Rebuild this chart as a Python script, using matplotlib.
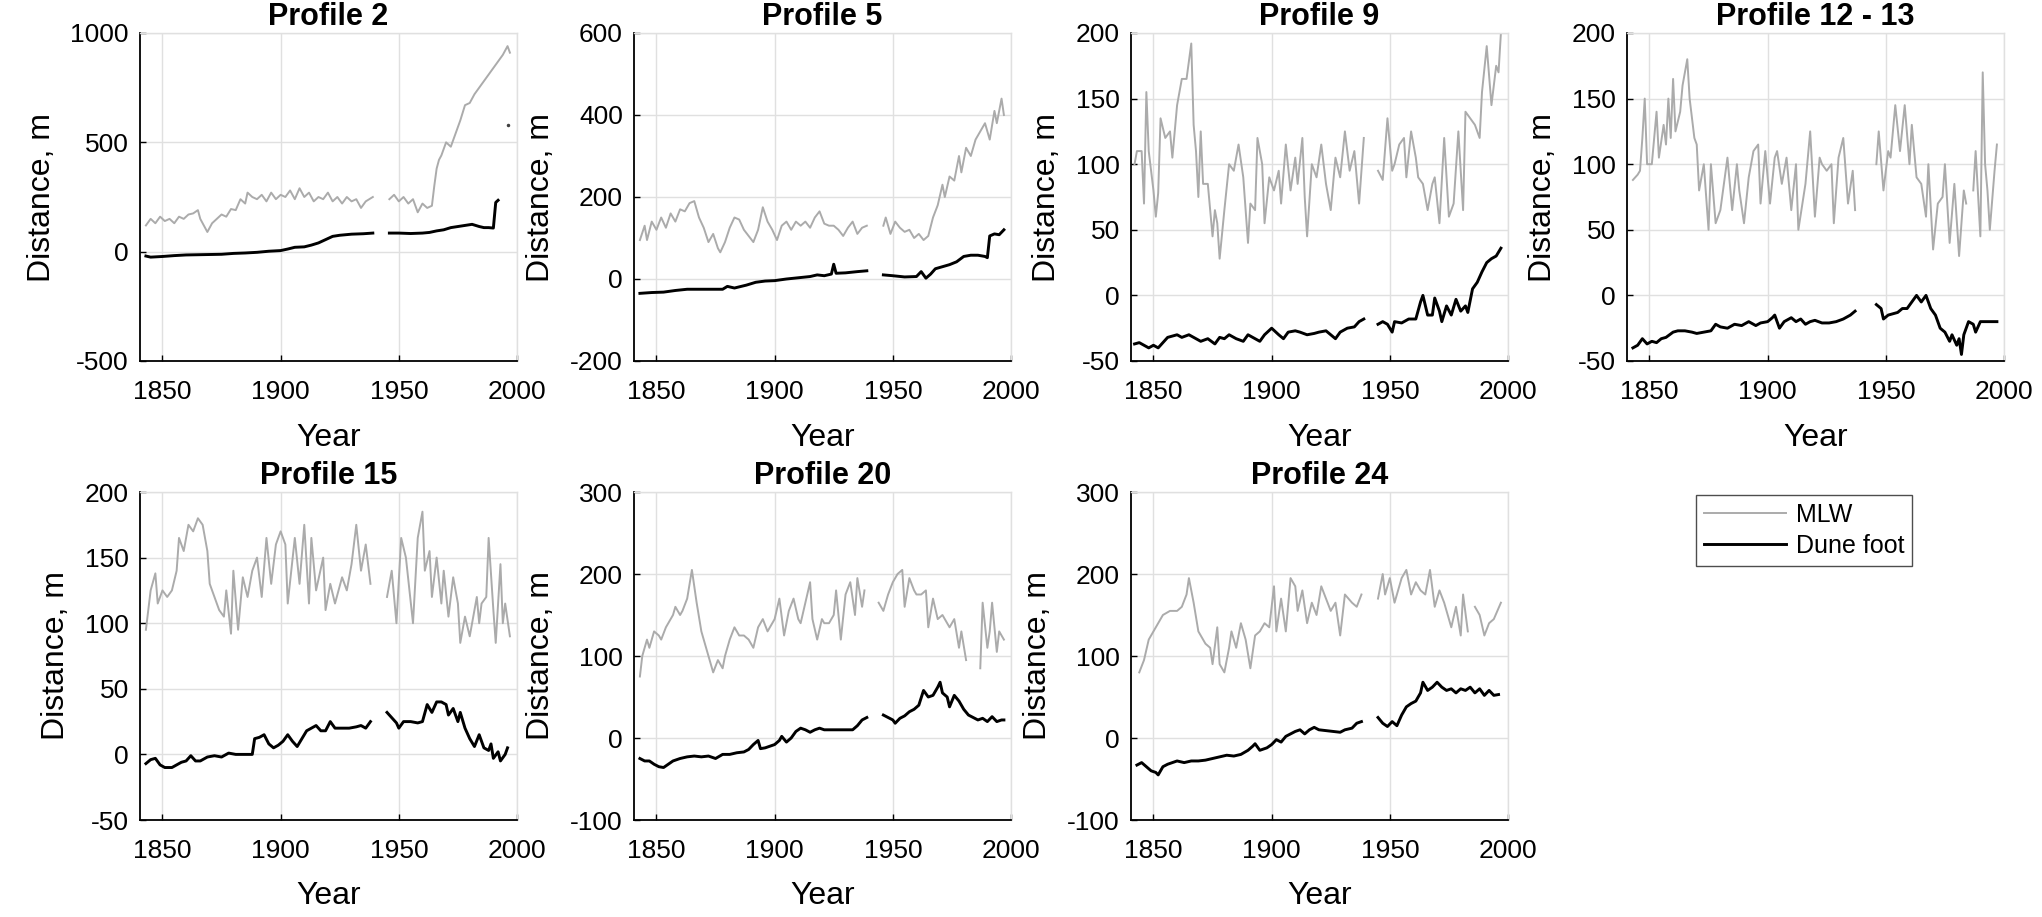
import numpy as np
import matplotlib
matplotlib.use("Agg")
import matplotlib.pyplot as plt

nan = np.nan

#################################
#            DATA               #
#################################
# nan entries mark gaps in the survey record

# -- Profile 2 --
p2_mlw_year = [1843, 1845, 1847, 1849, 1851, 1853, 1855, 1857, 1859, 1861, 1863, 1865, 1866, 1868, 1869, 1871,
               1873, 1875, 1877, 1879, 1881, 1883, 1885, 1886, 1888, 1890, 1892, 1894, 1896, 1898, 1900, 1902,
               1904, 1906, 1908, 1910, 1912, 1914, 1916, 1918, 1920, 1922, 1924, 1926, 1928, 1930, 1932, 1934,
               1936, 1939, 1942,
               1946, 1948, 1950, 1952, 1954, 1956, 1958, 1960, 1962, 1964, 1965, 1966, 1967, 1968, 1970, 1972,
               1974, 1976, 1978, 1980, 1982, 1984, 1986, 1988, 1990, 1992, 1994, 1996, 1997]
p2_mlw = [120, 150, 130, 160, 140, 150, 130, 160, 150, 170, 175, 190, 150, 110, 90, 130,
          150, 170, 160, 195, 190, 240, 220, 270, 250, 240, 260, 230, 270, 240, 260, 250,
          280, 240, 290, 250, 270, 230, 250, 240, 270, 230, 250, 220, 250, 230, 240, 200,
          230, 250, nan,
          240, 260, 230, 250, 220, 240, 180, 220, 200, 210, 300, 380, 420, 440, 500, 480,
          540, 600, 670, 680, 720, 750, 780, 810, 840, 870, 900, 940, 910]
p2_dune_year = [1843, 1845, 1850, 1855, 1860, 1865, 1870, 1875, 1880, 1885, 1890, 1895, 1900, 1903, 1906,
                1910, 1913, 1916, 1919, 1922, 1925, 1930, 1935, 1939, 1942,
                1946, 1950, 1955, 1960, 1963, 1966, 1969, 1972, 1975, 1978, 1981, 1984, 1986, 1988, 1990,
                1991, 1992]
p2_dune = [-20, -25, -22, -18, -15, -14, -13, -12, -8, -6, -3, 2, 5, 12, 20,
           22, 30, 40, 55, 70, 75, 80, 82, 85, nan,
           85, 85, 83, 85, 88, 95, 100, 110, 115, 120, 125, 115, 110, 110, 108,
           225, 235]
p2_dot_year = [1996]
p2_dot = [578]

# -- Profile 5 --
p5_mlw_year = [1843, 1845, 1846, 1848, 1850, 1852, 1854, 1856, 1858, 1860, 1862, 1864, 1866, 1868, 1870, 1872,
               1874, 1876, 1877, 1879, 1881, 1883, 1885, 1887, 1889, 1891, 1893, 1895, 1897, 1899, 1901, 1903,
               1905, 1907, 1909, 1911, 1913, 1915, 1917, 1919, 1921, 1923, 1925, 1927, 1929, 1931, 1933, 1935,
               1937, 1939, 1942,
               1946, 1947, 1949, 1951, 1953, 1955, 1957, 1959, 1961, 1963, 1965, 1967, 1969, 1971, 1972, 1974,
               1976, 1978, 1979, 1981, 1983, 1985, 1987, 1989, 1991, 1993, 1994, 1996, 1997]
p5_mlw = [95, 130, 95, 140, 120, 150, 125, 160, 140, 170, 165, 185, 190, 150, 125, 90,
          110, 75, 65, 90, 125, 150, 145, 120, 105, 90, 120, 175, 140, 120, 95, 130,
          140, 120, 140, 130, 140, 125, 150, 165, 135, 130, 130, 120, 105, 125, 140, 110,
          125, 130, nan,
          130, 150, 110, 140, 125, 115, 120, 100, 110, 95, 105, 150, 180, 230, 200, 250,
          240, 300, 260, 320, 300, 340, 360, 380, 340, 410, 380, 440, 400]
p5_dune_year = [1843, 1848, 1853, 1858, 1863, 1868, 1873, 1878, 1880, 1883, 1888, 1892, 1896, 1900, 1905,
                1910, 1915, 1918, 1921, 1924, 1925, 1926, 1930, 1935, 1939, 1942,
                1946, 1950, 1955, 1960, 1962, 1964, 1966, 1968, 1971, 1974, 1977, 1980, 1983, 1986, 1989,
                1990, 1991, 1993, 1995, 1997]
p5_dune = [-35, -33, -32, -28, -25, -25, -25, -25, -18, -22, -15, -8, -5, -4, 0,
           3, 6, 10, 8, 12, 36, 14, 15, 18, 20, nan,
           10, 8, 5, 6, 18, 2, 12, 25, 30, 35, 42, 55, 58, 58, 55,
           52, 105, 110, 108, 120]

# -- Profile 9 --
p9_mlw_year = [1842, 1843, 1845, 1846, 1847, 1848, 1850, 1851, 1852, 1853, 1855, 1857, 1858, 1860, 1862, 1864,
               1866, 1867, 1868, 1869, 1870, 1871, 1873, 1875, 1876, 1877, 1878, 1880, 1882, 1884, 1886, 1888,
               1890, 1891, 1893, 1894, 1896, 1897, 1899, 1901, 1903, 1904, 1906, 1908, 1910, 1911, 1913, 1914,
               1915, 1917, 1919, 1921, 1923, 1925, 1927, 1929, 1931, 1933, 1935, 1937, 1939, 1942,
               1945, 1947, 1949, 1951, 1952, 1954, 1956, 1957, 1959, 1961, 1962, 1964, 1966, 1968, 1969, 1971,
               1973, 1975, 1977, 1979, 1981, 1982, 1984, 1986, 1988, 1989, 1991, 1993, 1995, 1996, 1997]
p9_mlw = [100, 110, 110, 70, 155, 110, 80, 60, 78, 135, 120, 125, 105, 145, 165, 165,
          192, 130, 110, 75, 125, 85, 85, 45, 65, 55, 28, 65, 100, 95, 115, 90,
          40, 70, 65, 120, 100, 55, 90, 80, 95, 70, 115, 80, 105, 85, 120, 75,
          45, 100, 90, 115, 85, 65, 105, 90, 125, 95, 110, 70, 120, nan,
          95, 88, 135, 95, 100, 115, 120, 90, 125, 105, 90, 85, 65, 85, 90, 55,
          120, 60, 70, 125, 65, 140, 135, 130, 120, 155, 190, 145, 175, 170, 200]
p9_dune_year = [1842, 1844, 1846, 1848, 1850, 1852, 1854, 1856, 1858, 1860, 1862, 1865, 1868, 1870, 1873,
                1876, 1878, 1880, 1882, 1885, 1888, 1890, 1893, 1895, 1897, 1900, 1903, 1905, 1907, 1910,
                1912, 1915, 1918, 1920, 1923, 1925, 1927, 1929, 1932, 1935, 1937, 1939, 1942,
                1945, 1947, 1949, 1951, 1952, 1955, 1958, 1961, 1963, 1964, 1966, 1968, 1969, 1971, 1972,
                1974, 1976, 1978, 1980, 1982, 1983, 1985, 1987, 1989, 1991, 1993, 1995, 1997]
p9_dune = [-37, -36, -38, -40, -38, -40, -36, -32, -31, -30, -32, -30, -33, -35, -33,
           -37, -32, -33, -30, -33, -35, -30, -33, -35, -30, -25, -30, -33, -28, -27,
           -28, -30, -29, -28, -27, -30, -33, -28, -25, -24, -20, -18, nan,
           -22, -20, -22, -28, -20, -21, -18, -18, -5, 0, -15, -15, -2, -12, -20,
           -8, -15, -3, -12, -8, -13, 5, 10, 18, 25, 28, 30, 36]

# -- Profile 12 - 13 --
p12_mlw_year = [1843, 1845, 1846, 1847, 1848, 1849, 1851, 1853, 1854, 1856, 1857, 1858, 1859, 1860, 1861, 1863,
                1864, 1866, 1867, 1869, 1870, 1871, 1873, 1875, 1876, 1878, 1880, 1883, 1885, 1887, 1888, 1890,
                1892, 1894, 1896, 1897, 1899, 1901, 1903, 1904, 1906, 1908, 1910, 1912, 1913, 1916, 1918, 1920,
                1922, 1923, 1925, 1927, 1928, 1930, 1932, 1934, 1936, 1937, 1942,
                1946, 1947, 1949, 1951, 1952, 1954, 1956, 1958, 1960, 1961, 1963, 1965, 1967, 1968, 1970, 1972,
                1974, 1975, 1977, 1979, 1981, 1983, 1984, 1986,
                1987, 1988, 1990, 1991, 1992, 1993, 1994, 1996, 1997]
p12_mlw = [88, 92, 95, 120, 150, 100, 100, 140, 105, 130, 115, 150, 120, 165, 125, 140,
           160, 180, 150, 120, 115, 80, 100, 50, 100, 55, 65, 105, 65, 100, 80, 55,
           90, 110, 115, 70, 110, 70, 105, 110, 85, 105, 65, 100, 50, 85, 125, 60,
           105, 100, 95, 100, 55, 105, 120, 70, 95, 65, nan,
           100, 125, 80, 110, 105, 145, 110, 145, 100, 130, 90, 85, 60, 100, 35, 70,
           75, 100, 40, 85, 30, 80, 70, nan,
           80, 110, 45, 170, 100, 80, 50, 95, 115]
p12_dune_year = [1843, 1845, 1847, 1849, 1851, 1853, 1855, 1857, 1860, 1862, 1865, 1868, 1870, 1873, 1876,
                 1878, 1880, 1883, 1886, 1889, 1892, 1895, 1897, 1900, 1902, 1903, 1905, 1907, 1910, 1912,
                 1914, 1916, 1918, 1920, 1923, 1926, 1929, 1932, 1935, 1937, 1942,
                 1946, 1948, 1949, 1951, 1953, 1955, 1957, 1959, 1961, 1963, 1965, 1967, 1969, 1971, 1973,
                 1975, 1977, 1978, 1980, 1981, 1982, 1983, 1985, 1987, 1988, 1990, 1993, 1997]
p12_dune = [-40, -38, -33, -37, -35, -36, -33, -32, -28, -27, -27, -28, -29, -28, -27,
            -22, -24, -25, -22, -23, -20, -23, -21, -20, -17, -15, -25, -20, -17, -20,
            -18, -22, -20, -19, -21, -21, -20, -18, -15, -12, nan,
            -7, -10, -18, -15, -14, -13, -10, -10, -5, 0, -5, 0, -10, -15, -25,
            -28, -35, -30, -38, -33, -45, -30, -20, -22, -28, -20, -20, -20]

# -- Profile 15 --
p15_mlw_year = [1843, 1845, 1847, 1848, 1850, 1852, 1854, 1856, 1857, 1859, 1861, 1863, 1865, 1867, 1869, 1870,
                1872, 1874, 1876, 1877, 1879, 1880, 1882, 1884, 1886, 1888, 1890, 1892, 1894, 1896, 1898, 1900,
                1902, 1903, 1906, 1908, 1910, 1912, 1913, 1915, 1918, 1919, 1921, 1923, 1926, 1928, 1930, 1932,
                1934, 1936, 1938, 1942,
                1945, 1947, 1949, 1951, 1953, 1956, 1958, 1960, 1961, 1963, 1964, 1966, 1968, 1969, 1971, 1973,
                1975, 1976, 1978, 1980, 1983, 1984, 1985, 1987, 1988, 1990, 1991, 1993, 1994, 1995, 1997]
p15_mlw = [95, 125, 138, 115, 125, 120, 125, 140, 165, 155, 175, 170, 180, 175, 155, 130,
           120, 110, 105, 125, 92, 140, 95, 135, 120, 140, 150, 120, 165, 130, 160, 170,
           160, 115, 165, 130, 175, 115, 165, 125, 150, 110, 130, 115, 135, 125, 145, 175,
           140, 160, 130, nan,
           120, 140, 100, 165, 150, 100, 165, 185, 140, 155, 120, 150, 115, 140, 105, 135,
           115, 85, 105, 90, 120, 100, 115, 120, 165, 110, 85, 145, 100, 115, 90]
p15_dune_year = [1843, 1845, 1847, 1849, 1851, 1854, 1856, 1858, 1860, 1862, 1864, 1866, 1869, 1872, 1875,
                 1878, 1881, 1884, 1888, 1889, 1891, 1893, 1895, 1897, 1899, 1901, 1903, 1905, 1907, 1909,
                 1911, 1913, 1915, 1917, 1919, 1921, 1923, 1926, 1929, 1932, 1934, 1936, 1938, 1942,
                 1945, 1947, 1949, 1950, 1952, 1955, 1958, 1960, 1962, 1964, 1966, 1968, 1970, 1971, 1973,
                 1975, 1976, 1978, 1980, 1982, 1984, 1986, 1988, 1989, 1990, 1992, 1993, 1995, 1996]
p15_dune = [-7, -4, -3, -8, -10, -10, -8, -6, -5, -1, -5, -5, -2, -1, -2,
            1, 0, 0, 0, 12, 13, 15, 8, 5, 7, 10, 15, 10, 6, 12,
            18, 20, 22, 18, 18, 25, 20, 20, 20, 21, 22, 20, 25, nan,
            32, 28, 24, 20, 25, 25, 24, 25, 38, 32, 40, 40, 38, 30, 35,
            25, 32, 20, 12, 6, 15, 5, 3, 8, -3, 2, -5, 0, 5]

# -- Profile 20 --
p20_mlw_year = [1843, 1844, 1846, 1847, 1849, 1851, 1852, 1854, 1855, 1857, 1858, 1860, 1861, 1863, 1865, 1867,
                1869, 1871, 1872, 1874, 1876, 1878, 1879, 1881, 1883, 1885, 1887, 1889, 1891, 1893, 1895, 1897,
                1899, 1900, 1902, 1904, 1906, 1908, 1910, 1911, 1913, 1915, 1916, 1918, 1920, 1921, 1923, 1925,
                1926, 1928, 1930, 1932, 1934, 1935, 1937, 1938, 1942,
                1944, 1946, 1948, 1950, 1952, 1954, 1955, 1957, 1959, 1960, 1962, 1964, 1965, 1967, 1969, 1971,
                1973, 1974, 1976, 1978, 1979, 1981, 1984,
                1987, 1988, 1990, 1991, 1992, 1994, 1995, 1997]
p20_mlw = [75, 100, 120, 110, 130, 125, 120, 135, 140, 150, 160, 150, 155, 170, 205, 165,
           130, 110, 100, 80, 95, 85, 100, 120, 135, 125, 125, 120, 110, 135, 145, 130,
           140, 145, 170, 125, 155, 170, 145, 140, 165, 190, 145, 120, 145, 140, 140, 150,
           180, 120, 175, 190, 150, 195, 160, 180, nan,
           165, 155, 175, 190, 200, 205, 160, 195, 180, 175, 175, 180, 135, 170, 145, 150,
           140, 135, 145, 110, 130, 95, nan,
           85, 165, 110, 130, 165, 105, 130, 120]
p20_dune_year = [1843, 1845, 1847, 1849, 1851, 1853, 1855, 1857, 1860, 1863, 1866, 1869, 1872, 1875, 1878,
                 1881, 1884, 1887, 1889, 1891, 1893, 1894, 1896, 1898, 1900, 1902, 1903, 1905, 1907, 1909,
                 1911, 1913, 1915, 1917, 1919, 1921, 1924, 1927, 1930, 1933, 1935, 1937, 1939, 1942,
                 1946, 1948, 1950, 1951, 1953, 1955, 1957, 1959, 1961, 1963, 1965, 1967, 1969, 1970, 1971,
                 1973, 1974, 1976, 1978, 1980, 1982, 1984, 1986, 1988, 1990, 1992, 1994, 1996, 1997]
p20_dune = [-25, -28, -28, -32, -35, -36, -32, -28, -25, -23, -22, -23, -22, -25, -20,
            -20, -18, -17, -14, -8, -3, -13, -12, -10, -8, -3, 2, -5, 0, 8,
            12, 10, 7, 10, 12, 10, 10, 10, 10, 10, 15, 22, 25, nan,
            28, 25, 22, 18, 24, 27, 32, 35, 40, 58, 50, 52, 62, 68, 55,
            50, 38, 52, 45, 35, 28, 25, 22, 24, 20, 26, 20, 22, 22]

# -- Profile 24 --
p24_mlw_year = [1844, 1846, 1848, 1850, 1852, 1854, 1857, 1860, 1862, 1864, 1865, 1867, 1869, 1872, 1874, 1875,
                1877, 1878, 1880, 1882, 1883, 1885, 1887, 1889, 1891, 1893, 1895, 1897, 1899, 1901, 1902, 1904,
                1906, 1908, 1910, 1911, 1913, 1915, 1917, 1919, 1921, 1923, 1925, 1927, 1929, 1931, 1934, 1936,
                1938, 1942,
                1945, 1947, 1948, 1950, 1952, 1955, 1957, 1959, 1961, 1963, 1965, 1967, 1969, 1971, 1973, 1976,
                1978, 1980, 1981, 1983, 1984,
                1986, 1988, 1990, 1992, 1994, 1997]
p24_mlw = [80, 95, 120, 130, 140, 150, 155, 155, 160, 175, 195, 165, 130, 115, 110, 90,
           135, 90, 80, 110, 130, 110, 140, 120, 85, 125, 130, 140, 135, 185, 130, 170,
           130, 195, 185, 155, 180, 140, 165, 150, 185, 170, 155, 165, 125, 175, 165, 160,
           175, nan,
           170, 200, 175, 195, 165, 195, 205, 175, 190, 180, 175, 205, 160, 180, 165, 135,
           160, 125, 175, 130, nan,
           160, 150, 125, 140, 145, 165]
p24_dune_year = [1843, 1845, 1847, 1849, 1851, 1852, 1854, 1856, 1858, 1860, 1863, 1866, 1869, 1872, 1875,
                 1878, 1881, 1884, 1887, 1890, 1892, 1893, 1895, 1898, 1900, 1902, 1904, 1906, 1908, 1910,
                 1912, 1914, 1916, 1918, 1920, 1923, 1926, 1929, 1931, 1934, 1936, 1938, 1942,
                 1945, 1947, 1949, 1951, 1953, 1955, 1957, 1959, 1961, 1963, 1964, 1966, 1968, 1970, 1972,
                 1974, 1976, 1978, 1980, 1982, 1984, 1986, 1988, 1990, 1992, 1994, 1996]
p24_dune = [-33, -30, -35, -40, -42, -45, -35, -32, -30, -28, -30, -28, -28, -27, -25,
            -23, -21, -22, -20, -15, -10, -7, -15, -12, -8, -2, -5, 2, 5, 8,
            10, 5, 10, 13, 10, 9, 8, 7, 10, 12, 18, 20, nan,
            25, 18, 14, 20, 15, 28, 38, 42, 45, 55, 68, 58, 62, 68, 62,
            58, 60, 55, 60, 58, 62, 55, 60, 52, 58, 52, 53]

titles = ["Profile 2", "Profile 5", "Profile 9", "Profile 12 - 13",
          "Profile 15", "Profile 20", "Profile 24"]
mlw_years = [p2_mlw_year, p5_mlw_year, p9_mlw_year, p12_mlw_year, p15_mlw_year, p20_mlw_year, p24_mlw_year]
mlw_vals = [p2_mlw, p5_mlw, p9_mlw, p12_mlw, p15_mlw, p20_mlw, p24_mlw]
dune_years = [p2_dune_year, p5_dune_year, p9_dune_year, p12_dune_year, p15_dune_year, p20_dune_year, p24_dune_year]
dune_vals = [p2_dune, p5_dune, p9_dune, p12_dune, p15_dune, p20_dune, p24_dune]
y_ranges = [(-500, 1000, 500), (-200, 600, 200), (-50, 200, 50), (-50, 200, 50),
            (-50, 200, 50), (-100, 300, 100), (-100, 300, 100)]

#################################
#           FIGURE              #
#################################
plt.rcParams['font.family'] = ['Liberation Sans', 'DejaVu Sans']
plt.rcParams['axes.unicode_minus'] = False

W, H = 2042, 917
fig = plt.figure(figsize=(W / 100, H / 100), dpi=100)

# axes boxes in pixels: left, top, width, height
col_left = [140, 634, 1131, 1627]
row_top = [33, 492]
ax_w, ax_h = 377, 328

mlw_color = '#ababab'
dune_color = 'black'

handles = None
for k in range(7):
    r, c = divmod(k, 4)
    left, top = col_left[c], row_top[r]
    ax = fig.add_axes([left / W, 1 - (top + ax_h) / H, ax_w / W, ax_h / H])

    l1, = ax.plot(mlw_years[k], mlw_vals[k], color=mlw_color, lw=1.4, label='MLW')
    l2, = ax.plot(dune_years[k], dune_vals[k], color=dune_color, lw=2.1, label='Dune foot')
    if k == 0:
        ax.plot(p2_dot_year, p2_dot, ls='none', marker='.', ms=3, color='0.25')
        handles = [l1, l2]

    lo, hi, step = y_ranges[k]
    ax.set_xlim(1840.5, 1999)
    ax.set_ylim(lo, hi)
    ax.set_xticks([1850, 1900, 1950, 2000])
    ax.set_yticks(np.arange(lo, hi + 1, step))

    ax.grid(True, color='#e0e0e0', lw=1.0)
    ax.set_axisbelow(True)
    for side in ['top', 'right']:
        ax.spines[side].set_color('#e0e0e0')
        ax.spines[side].set_linewidth(1.0)
    for side in ['left', 'bottom']:
        ax.spines[side].set_color('black')
        ax.spines[side].set_linewidth(1.3)
    ax.tick_params(direction='in', length=4, width=1, labelsize=19,
                   top=False, right=False)
    ax.tick_params(axis='x', pad=14)
    ax.tick_params(axis='y', pad=8)

    ax.set_title(titles[k], fontsize=22, fontweight='bold', pad=6)
    ax.set_xlabel('Year', fontsize=23, labelpad=13)
    ax.set_ylabel('Distance, m', fontsize=23, labelpad=10)

## -- LEGEND -- ##
fig.legend(handles=handles, labels=['MLW', 'Dune foot'], loc='upper left',
           bbox_to_anchor=(1696 / W, 1 - 495 / H), fontsize=18, frameon=True,
           fancybox=False, edgecolor='0.3', framealpha=1, handlelength=3.3,
           handletextpad=0.4, labelspacing=0.3, borderpad=0.3, borderaxespad=0)

fig.savefig('out.png', dpi=100)
